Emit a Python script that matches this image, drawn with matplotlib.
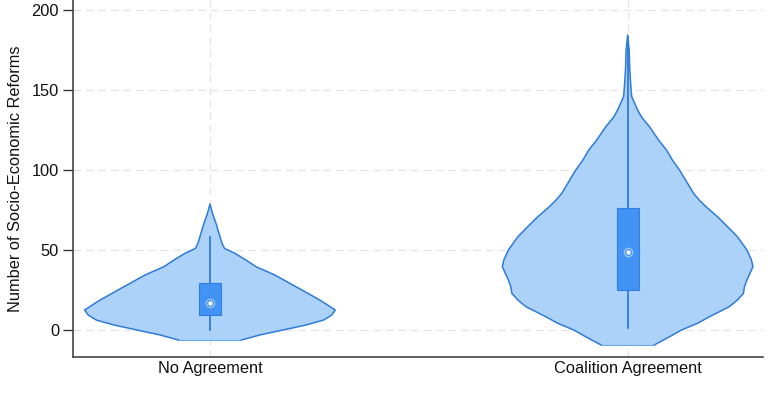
import numpy as np
import matplotlib
matplotlib.use("Agg")
import matplotlib.pyplot as plt

plt.rcParams['font.family'] = ['Liberation Sans', 'DejaVu Sans']

# ---- data ----
categories = ["No Agreement", "Coalition Agreement"]

# estimated density profile (relative half-width) along y for each group
na_y = [78.7, 72.9, 66.7, 60.4, 54.2, 51.0, 47.9, 43.75, 39.6, 34.4, 29.2, 24.0,
        18.75, 15.6, 12.5, 9.4, 6.25, 3.1, 0.0, -3.1, -6.25]
na_dens = [0.0, 0.02, 0.048, 0.072, 0.096, 0.116, 0.20, 0.287, 0.367, 0.518, 0.637,
           0.757, 0.876, 0.94, 1.0, 0.972, 0.908, 0.765, 0.582, 0.398, 0.251]

ca_y = [184.4, 175.0, 164.6, 154.0, 146.0, 141.7, 137.5, 133.0, 127.0, 118.75, 112.5,
        106.0, 100.0, 91.7, 85.4, 81.0, 77.0, 70.8, 64.6, 58.3, 50.0, 43.75, 39.6,
        35.4, 31.25, 27.0, 22.9, 18.75, 14.6, 8.3, 4.2, 0.0, -4.2, -9.4]
ca_dens = [0.0, 0.012, 0.016, 0.024, 0.032, 0.056, 0.08, 0.112, 0.175, 0.247, 0.31,
           0.359, 0.414, 0.478, 0.526, 0.574, 0.626, 0.717, 0.797, 0.876, 0.952, 0.988,
           1.0, 0.976, 0.952, 0.932, 0.924, 0.876, 0.812, 0.653, 0.558, 0.43, 0.335, 0.211]

# box plot statistics
q1 = [9.5, 25.0]
median = [16.7, 49.0]
q3 = [29.5, 76.0]
whisk_lo = [0.0, 1.0]
whisk_hi = [58.0, 183.0]

yticks = [0, 50, 100, 150, 200]

# ---- styling ----
fill_col = "#acd2f9"
edge_col = "#2e7bd8"
box_col = "#4393f5"
box_edge = "#2f80e6"
grid_col = "#e4e4e4"
positions = [1, 2]
half_width = 0.30
box_hw = 0.026

fig = plt.figure(figsize=(7.68, 4.04), dpi=100)
ax = fig.add_axes([0.095, 0.117, 0.899, 0.883])

ax.set_xlim(0.672, 2.325)
ax.set_ylim(-16.7, 206.25)

# grid
for t in yticks:
    ax.axhline(t, color=grid_col, lw=0.9, ls=(0, (6, 4)), zorder=0)
for p in positions:
    ax.axvline(p, color=grid_col, lw=0.9, ls=(0, (6, 4)), zorder=0)

profiles = [(na_y, na_dens), (ca_y, ca_dens)]
for i, (ys, ds) in enumerate(profiles):
    p = positions[i]
    ys = np.array(ys)
    ds = np.array(ds) * half_width
    order = np.argsort(ys)
    ys, ds = ys[order], ds[order]
    ax.fill_betweenx(ys, p - ds, p + ds, facecolor=fill_col, edgecolor="none", zorder=2)
    xs = np.concatenate([p - ds, (p + ds)[::-1]])
    yy = np.concatenate([ys, ys[::-1]])
    ax.plot(xs, yy, color=edge_col, lw=1.1, zorder=3, solid_joinstyle='round')
    # bottom closing edge (lighter)
    ax.plot([p - ds[0], p + ds[0]], [ys[0], ys[0]], color="#6aa8ec", lw=0.8, zorder=3)
    # whisker
    ax.plot([p, p], [whisk_lo[i], whisk_hi[i]], color=edge_col, lw=1.3, zorder=4)
    # box
    ax.add_patch(plt.Rectangle((p - box_hw, q1[i]), 2 * box_hw, q3[i] - q1[i],
                               facecolor=box_col, edgecolor=box_edge, lw=0.8, zorder=5))
    # median marker
    ax.plot(p, median[i], marker='o', ms=6, mfc='none', mec="#a9cff8", mew=0.8, zorder=6)
    ax.plot(p, median[i], marker='o', ms=3.2, mfc='white', mec='white', mew=0, zorder=7)

ax.set_xticks(positions)
ax.set_xticklabels(categories, fontsize=11.8, color="#111111")
ax.tick_params(axis='x', length=0, pad=3)
ax.set_yticks(yticks)
ax.set_yticklabels([str(t) for t in yticks], fontsize=11.8, color="#111111")
ax.tick_params(axis='y', length=7, width=1.0, color="#333333", pad=3)
ax.set_ylabel("Number of Socio-Economic Reforms", fontsize=11.8, color="#111111", labelpad=6)

for s in ['top', 'right']:
    ax.spines[s].set_visible(False)
for s in ['left', 'bottom']:
    ax.spines[s].set_color("#444444")
    ax.spines[s].set_linewidth(1.2)

fig.savefig("out.png", dpi=100)
